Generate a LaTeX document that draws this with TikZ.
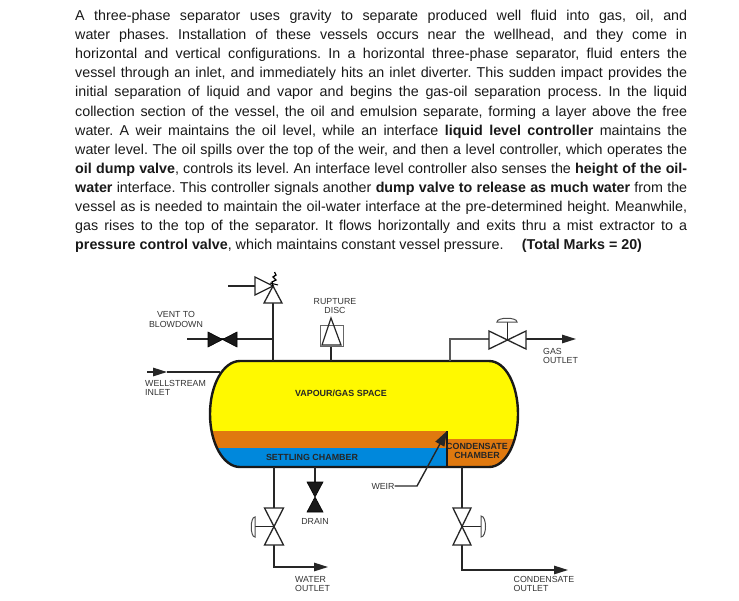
\documentclass[tikz,border=0pt]{standalone}
\usepackage{fontspec}
\setmainfont{Liberation Sans}
\usetikzlibrary{arrows.meta}
\definecolor{gasyellow}{HTML}{FFF900}
\definecolor{oilorange}{HTML}{E0790F}
\definecolor{waterblue}{HTML}{0088DC}
\definecolor{labelgray}{HTML}{333333}
\tikzset{
	pipe/.style={line width=1.4pt,color=black!85},
	flowarrow/.style={pipe,-{Triangle[length=14pt,width=8.5pt]}},
	tag/.style={font=\fontsize{8.8}{9.6}\selectfont,text=labelgray,inner sep=0pt,align=left},
	tagbold/.style={font=\fontsize{8.9}{9.4}\selectfont\bfseries,text=black!85,inner sep=0pt,align=center},
	valveopen/.style={line width=1.3pt,color=black!85,fill=white},
	valveshut/.style={line width=.6pt,fill=black!90},
}
\def\vesselpath{(240,361) -- (489,361) .. controls (505.5,361) and (518,384.7) .. (518,414) .. controls (518,443.3) and (505.5,467) .. (489,467) -- (240,467) .. controls (223.4,467) and (210,443.3) .. (210,414) .. controls (210,384.7) and (223.4,361) .. (240,361) -- cycle}
\begin{document}
\begin{tikzpicture}[x=1pt,y=-1pt]
	\useasboundingbox (0,0) rectangle (739,600);
	
	% paragraph
	\node[anchor=north west,inner sep=0pt,text width=612pt,align=justify,text=black!90,font=\fontsize{14.3}{19.1}\selectfont\frenchspacing] (para) at (75,10) {A three-phase separator uses gravity to separate produced well fluid into gas, oil, and\linebreak
	water phases. Installation of these vessels occurs near the wellhead, and they come in\linebreak
	horizontal and vertical configurations. In a horizontal three-phase separator, fluid enters the\linebreak
	vessel through an inlet, and immediately hits an inlet diverter. This sudden impact provides the\linebreak
	initial separation of liquid and vapor and begins the gas-oil separation process. In the liquid\linebreak
	collection section of the vessel, the oil and emulsion separate, forming a layer above the free\linebreak
	water. A weir maintains the oil level, while an interface \textbf{liquid level controller} maintains the\linebreak
	water level. The oil spills over the top of the weir, and then a level controller, which operates the\linebreak
	\textbf{oil dump valve}, controls its level. An interface level controller also senses the \textbf{height of the oil-}\linebreak
	\textbf{water} interface. This controller signals another \textbf{dump valve to release as much water} from the\linebreak
	vessel as is needed to maintain the oil-water interface at the pre-determined height. Meanwhile,\linebreak
	gas rises to the top of the separator. It flows horizontally and exits thru a mist extractor to a\linebreak
	\textbf{pressure control valve}, which maintains constant vessel pressure.\hspace{1em} \textbf{(Total Marks = 20)}};
	
	% vessel contents
	\begin{scope}
		\clip \vesselpath;
		\fill[gasyellow] (205,355) rectangle (525,431);
		\fill[oilorange] (205,431) rectangle (447,448);
		\fill[waterblue] (205,448) rectangle (447,470);
		\fill[gasyellow] (447,431) rectangle (525,439);
		\fill[oilorange] (447,439) rectangle (525,470);
	\end{scope}
	\draw[line width=2.4pt,color=black!90] \vesselpath;
	
	\coordinate (weirtop) at (447,431);
	\coordinate (weirfoot) at (447,467);
	\draw[line width=1.6pt,color=black!90] (weirtop) -- (weirfoot);
	
	% top connections
	\coordinate (reliefbase) at (273,361);
	\coordinate (reliefin) at (273,303);
	\coordinate (ventjoin) at (273,339);
	\coordinate (ventend) at (187,339);
	\coordinate (reliefout) at (228,286);
	\coordinate (reliefport) at (255,286);
	\coordinate (discbase) at (331,361);
	\coordinate (disctop) at (331,346);
	\draw[pipe] (reliefbase) -- (reliefin);
	\draw[pipe] (ventjoin) -- (ventend);
	\draw[pipe] (reliefout) -- (reliefport);
	\draw[pipe] (discbase) -- (disctop);
	
	% relief valve
	\draw[valveopen] (273,286) -- (282,303) -- (264,303) -- cycle;
	\draw[valveopen] (273,286) -- (255,277) -- (255,295) -- cycle;
	\draw[line width=1.3pt] (273,286) -- (272,282) -- (276,280) -- (273,277) -- (276,275) -- (274.5,272);
	\draw[line width=1pt] (270,283) -- (278,285);
	
	% vent valve
	\draw[valveshut] (208,332) -- (237,347) -- (237,332) -- (208,347) -- cycle;
	
	% rupture disc
	\draw[line width=1pt,color=black!60] (320,325) rectangle (343,346);
	\draw[line width=1.2pt,color=black!85] (322,345) -- (331,318) -- (341,345) -- cycle;
	
	% gas outlet
	\coordinate (gasbase) at (450,361);
	\coordinate (gascorner) at (450,339);
	\coordinate (gasport) at (489,339);
	\coordinate (gasvalveout) at (526,339);
	\coordinate (gasend) at (576,339);
	\draw[pipe,color=black!65] (gasbase) -- (gascorner) -- (gasport);
	\draw[flowarrow] (gasvalveout) -- (gasend);
	\draw[valveopen] (489,331) -- (526,349) -- (526,331) -- (489,349) -- cycle;
	\draw[line width=1.3pt,color=black!85] (507.5,340) -- (507.5,322);
	\draw[line width=1pt,color=black!70] (497,322) .. controls (497,317) and (517,317) .. (517,322) -- cycle;
	
	% inlet
	\coordinate (inletend) at (147,372);
	\coordinate (inlettip) at (167,372);
	\coordinate (inletvessel) at (220,372);
	\draw[flowarrow] (inletend) -- (inlettip);
	\draw[pipe] (inlettip) -- (inletvessel);
	
	% water outlet
	\coordinate (waterbase) at (274,467);
	\coordinate (waterport) at (274,508);
	\coordinate (watervalveout) at (274,545);
	\coordinate (watercorner) at (274,567);
	\coordinate (waterend) at (328,567);
	\draw[pipe] (waterbase) -- (waterport);
	\draw[flowarrow] (watervalveout) -- (watercorner) -- (waterend);
	\draw[valveopen] (264.5,508) -- (283.5,545) -- (264.5,545) -- (283.5,508) -- cycle;
	\draw[line width=1.3pt,color=black!85] (274,526.5) -- (255,526.5);
	\draw[line width=1pt,color=black!70] (255,517) .. controls (250,517) and (250,537) .. (255,537) -- cycle;
	
	% drain
	\coordinate (drainbase) at (315,467);
	\coordinate (drainport) at (315,482);
	\draw[pipe] (drainbase) -- (drainport);
	\draw[valveshut] (307,482) -- (323,512) -- (307,512) -- (323,482) -- cycle;
	
	% condensate outlet
	\coordinate (condbase) at (462,467);
	\coordinate (condport) at (462,508);
	\coordinate (condvalveout) at (462,545);
	\coordinate (condcorner) at (462,570);
	\coordinate (condend) at (568,570);
	\draw[pipe] (condbase) -- (condport);
	\draw[flowarrow] (condvalveout) -- (condcorner) -- (condend);
	\draw[valveopen] (453,508) -- (471,545) -- (453,545) -- (471,508) -- cycle;
	\draw[line width=1.3pt,color=black!85] (462,526.5) -- (481,526.5);
	\draw[line width=1pt,color=black!70] (481,516) .. controls (487,516) and (487,537) .. (481,537) -- cycle;
	
	% labels
	\node[tag,align=center] (rupture) at (335,306) {RUPTURE\\DISC};
	\node[tag,align=center] (vent) at (176,319.5) {VENT TO\\BLOWDOWN};
	\node[tag,anchor=west] (wellstream) at (145,388) {WELLSTREAM\\INLET};
	\node[tag,anchor=west] (gasoutlet) at (543,356) {GAS\\OUTLET};
	\node[tag,align=center] (drain) at (315,521) {DRAIN};
	\node[tag,anchor=west] (wateroutlet) at (295,584) {WATER\\OUTLET};
	\node[tag,anchor=west] (condoutlet) at (513.5,584) {CONDENSATE\\OUTLET};
	\node[tag] (weir) at (383,486) {WEIR};
	\node[tagbold] (vapour) at (341,393.5) {VAPOUR/GAS SPACE};
	\node[tagbold] (settling) at (312,457) {SETTLING CHAMBER};
	\node[tagbold] (chamber) at (477,451) {CONDENSATE\\CHAMBER};
	
	% weir pointer
	\coordinate (weirbend) at (417,486);
	\draw[pipe,-{Triangle[length=15pt,width=10pt]}] (weir.east) -- (weirbend) -- (weirtop);
\end{tikzpicture}
\end{document}
